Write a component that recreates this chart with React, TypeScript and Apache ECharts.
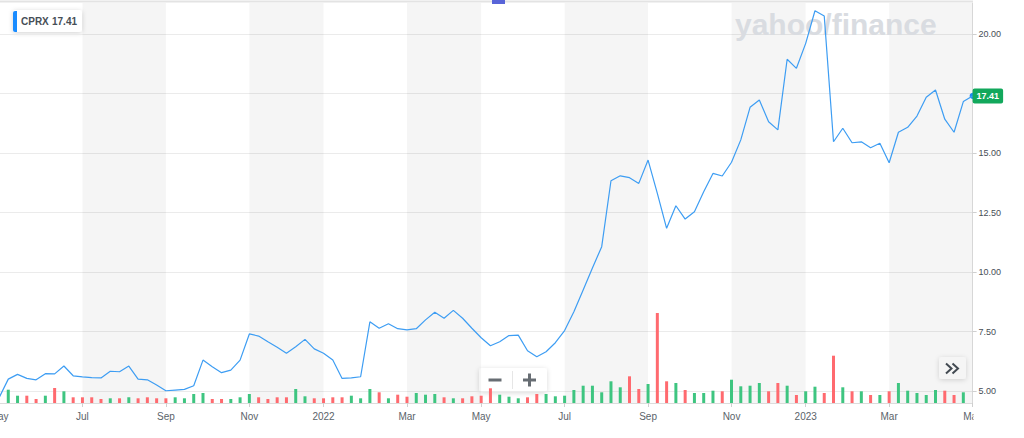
import React, { useEffect, useRef } from 'react';
import * as echarts from 'echarts';

const TICKER = 'CPRX';
const FIRST_WEEK = '2021-04-26'; // Monday of the first weekly point
const MONTH_NAMES = ['Jan', 'Feb', 'Mar', 'Apr', 'May', 'Jun', 'Jul', 'Aug', 'Sep', 'Oct', 'Nov', 'Dec'];
const PRICE_TICKS = [2.5, 5, 7.5, 10, 12.5, 15, 17.5, 20, 22.5];
const PRICE_LABELS_SHOWN = [5, 7.5, 10, 12.5, 15, 20];

// weekly closing price (USD)
const closes = [
  4.71, 5.5, 5.7, 5.53, 5.47, 5.73, 5.72, 6.05, 5.64, 5.59,
  5.56, 5.55, 5.83, 5.81, 6.05, 5.5, 5.47, 5.25, 5.01, 5.04,
  5.07, 5.22, 6.3, 6.02, 5.77, 5.88, 6.3, 7.4, 7.31, 7.07,
  6.84, 6.59, 6.86, 7.17, 6.77, 6.59, 6.3, 5.53, 5.55, 5.6,
  7.91, 7.64, 7.83, 7.62, 7.57, 7.62, 7.99, 8.31, 8.06, 8.39,
  8.06, 7.64, 7.24, 6.9, 7.07, 7.33, 7.35, 6.69, 6.44, 6.65,
  7.03, 7.54, 8.33, 9.25, 10.17, 11.07, 13.84, 14.05, 13.97, 13.73,
  14.71, 13.31, 11.84, 12.79, 12.23, 12.54, 13.38, 14.15, 14.04, 14.62,
  15.56, 16.93, 17.24, 16.32, 15.98, 18.95, 18.57, 19.62, 20.99, 20.77,
  15.48, 16.05, 15.44, 15.48, 15.23, 15.42, 14.6, 15.88, 16.09, 16.56,
  17.35, 17.66, 16.43, 15.88, 17.17, 17.41,
];

// weekly volume (millions of shares)
const volumes = [
  null,
  13.3, 7.3, 7.3, 4, 7.3, 15, 11.7, 5.7, 5.7, 5.7,
  4, 4.7, 4.7, 5.7, 4.7, 5.7, 4.7, 4.7, 5.7, 4.7,
  9, 10, 4, 4, 4, 5.7, 9, 5.7, 4, 5.7,
  5.7, 14, 6.7, 4.7, 4.7, 5.7, 5.7,
  7.3, 4.7, 14, 10.7, 4.7, 8.3, 6.3, 10, 8.3, 9,
  5.7, 4.7, 4.7, 6.7, 7.3, 14.7, 8.3, 6.3, 4.7, 5.7,
  9, 9, 6.7, 7.3, 13, 17.3, 17.3, 10.7, 21.7, 15.7,
  26.7, 14, 19, 90,
  21.7, 20, 13, 10, 10, 12.3, 11.7, 23.3, 16.7, 17.3,
  20, 11.7, 20, 17.3, 8, 11.7, 16.3, 10, 47.3, 15.7,
  11.7, 11.7, 8, 8, 11.7, 20, 12.3, 10, 8, 13,
  12.3, 8, 10.7,
  null,
];

const FONT = 'Liberation Sans, Arial, Helvetica, sans-serif';
const UP = '#3ec580';
const DOWN = '#ff6a6f';
const LINE = '#3d9df3';

function buildWeeks(start: string, n: number): string[] {
  const out: string[] = [];
  const t0 = Date.parse(start + 'T00:00:00Z');
  for (let i = 0; i < n; i++) {
    out.push(new Date(t0 + i * 7 * 86400000).toISOString().slice(0, 10));
  }
  return out;
}

// month (0-11) whose 1st falls in this week, for odd calendar months (Jan, Mar, ...), else -1
function labelMonth(week: string): number {
  const t0 = Date.parse(week + 'T00:00:00Z');
  for (let d = 0; d < 7; d++) {
    const day = new Date(t0 + d * 86400000);
    if (day.getUTCDate() === 1 && day.getUTCMonth() % 2 === 0) return day.getUTCMonth();
  }
  return -1;
}

export default function App() {
  const ref = useRef<HTMLDivElement>(null);
  useEffect(() => {
    if (!ref.current) return;
    const chart = echarts.init(ref.current, undefined, { renderer: 'svg' });
    const weeks = buildWeeks(FIRST_WEEK, closes.length);
    const last = closes[closes.length - 1];

    const labelIdx = weeks.map((w, i) => (labelMonth(w) >= 0 ? i : -1)).filter((i) => i >= 0);
    const bands: number[][] = [];
    labelIdx.forEach((idx, k) => {
      const m = labelMonth(weeks[idx]);
      if ((m === 2 || m === 6 || m === 10) && k + 1 < labelIdx.length) {
        bands.push([idx, labelIdx[k + 1]]);
      }
    });

    const volData = volumes.map((v, i) => ({
      value: v,
      itemStyle: { color: i > 0 && closes[i] < closes[i - 1] ? DOWN : UP },
    }));

    const showTick = (index: number, value: string) => labelMonth(value) >= 0;
    const fmt = (value: string) => {
      const m = labelMonth(value);
      if (m < 0) return '';
      if (m === 0) {
        const t0 = Date.parse(value + 'T00:00:00Z');
        return String(new Date(t0 + 6 * 86400000).getUTCFullYear());
      }
      return MONTH_NAMES[m];
    };

    const option: any = {
      animation: false,
      grid: [
        { left: -1, right: 51.4, top: -25.15, height: 475.6, outerBoundsMode: 'none', containLabel: false },
        { left: -1, right: 51.4, top: 3, height: 400, outerBoundsMode: 'none', containLabel: false },
      ],
      xAxis: [
        { type: 'category', gridIndex: 0, data: weeks, boundaryGap: false, show: false },
        {
          type: 'category', gridIndex: 1, data: weeks, boundaryGap: false,
          axisLine: { lineStyle: { color: '#dcdcdc' } },
          axisTick: { interval: showTick, length: 4, lineStyle: { color: '#cfcfcf' } },
          axisLabel: { interval: showTick, formatter: fmt, fontSize: 10, color: '#5b636a', margin: 8, fontFamily: FONT },
          splitLine: { show: false },
        },
      ],
      yAxis: [
        {
          type: 'value', gridIndex: 0, position: 'right', min: PRICE_TICKS[0], max: PRICE_TICKS[PRICE_TICKS.length - 1], interval: 2.5,
          axisLine: { show: false },
          axisTick: { show: true, length: 4, lineStyle: { color: '#cfcfcf' } },
          axisLabel: {
            formatter: (v: number) => (PRICE_LABELS_SHOWN.indexOf(v) >= 0 ? v.toFixed(2) : ''),
            fontSize: 9, color: '#464e56', margin: 6, fontFamily: FONT,
          },
          splitLine: { lineStyle: { color: '#ebebeb' } },
        },
        {
          type: 'value', gridIndex: 1, position: 'right', min: 0, max: 400,
          axisLine: { show: true, lineStyle: { color: '#dcdcdc' } },
          axisTick: { show: false }, axisLabel: { show: false }, splitLine: { show: false },
        },
      ],
      series: [
        {
          type: 'custom', name: 'bands', xAxisIndex: 1, yAxisIndex: 1, z: 1, silent: true,
          data: bands,
          renderItem: (params: any, api: any) => {
            const x0 = api.coord([api.value(0), 0])[0];
            const x1 = api.coord([api.value(1), 0])[0];
            const cs = params.coordSys;
            return { type: 'rect', shape: { x: x0, y: cs.y, width: x1 - x0, height: cs.height }, style: { fill: 'rgba(0,0,0,0.04)' } };
          },
        },
        {
          type: 'bar', name: 'Volume', xAxisIndex: 1, yAxisIndex: 1, barWidth: 3, z: 2,
          data: volData,
        },
        {
          type: 'line', name: TICKER, xAxisIndex: 0, yAxisIndex: 0, z: 5,
          data: closes, symbol: 'none', showSymbol: false,
          lineStyle: { color: LINE, width: 1.2 },
          markPoint: {
            silent: true,
            data: [{ coord: [weeks.length - 1, last], symbol: 'circle', symbolSize: 6, itemStyle: { color: '#1f8cf0' }, label: { show: false } }],
          },
          endLabel: {
            show: true, formatter: () => last.toFixed(2), backgroundColor: '#12a85c', color: '#fff',
            fontSize: 9, fontWeight: 'bold', padding: [3, 4, 3, 4], borderRadius: 2, distance: 0, fontFamily: FONT,
          },
        },
      ],
      graphic: [
        { type: 'line', z: 3, shape: { x1: 0, y1: 1.5, x2: 973, y2: 1.5 }, style: { stroke: '#e3e3e3', lineWidth: 2 } },
        { type: 'rect', z: 20, shape: { x: 492, y: 0, width: 13, height: 4 }, style: { fill: '#5864d8' } },
        {
          type: 'text', z: 3, x: 735, y: 24,
          style: { text: 'yahoo/finance', fontSize: 30, fontWeight: 'bold', fontFamily: FONT, fill: '#d9dce1', verticalAlign: 'middle' },
        },
        {
          type: 'group', x: 13, y: 10, z: 20,
          children: [
            { type: 'rect', shape: { x: 0, y: 0, width: 69, height: 22, r: 3 }, style: { fill: '#fff', shadowBlur: 5, shadowColor: 'rgba(0,0,0,0.18)', shadowOffsetY: 1 } },
            { type: 'rect', shape: { x: 0, y: 1, width: 4, height: 21, r: [2, 0, 0, 2] }, style: { fill: '#1a8cff' } },
            { type: 'text', x: 8, y: 11, style: { text: TICKER, fontSize: 10, fontWeight: 600, fontFamily: FONT, fill: '#464e56', verticalAlign: 'middle' } },
            { type: 'text', x: 39, y: 11, style: { text: last.toFixed(2), fontSize: 10, fontWeight: 600, fontFamily: FONT, fill: '#464e56', verticalAlign: 'middle' } },
          ],
        },
        {
          type: 'group', x: 0, y: 0, z: 20,
          children: [
            { type: 'rect', shape: { x: 479, y: 368, width: 68, height: 24, r: 3 }, style: { fill: '#fff', shadowBlur: 5, shadowColor: 'rgba(0,0,0,0.15)', shadowOffsetY: 1 } },
            { type: 'line', shape: { x1: 512.5, y1: 371, x2: 512.5, y2: 389 }, style: { stroke: '#e6e6e6', lineWidth: 1 } },
            { type: 'rect', shape: { x: 488.5, y: 378.5, width: 13, height: 3 }, style: { fill: '#676d73' } },
            { type: 'rect', shape: { x: 523, y: 378.5, width: 13, height: 3 }, style: { fill: '#676d73' } },
            { type: 'rect', shape: { x: 528, y: 373.5, width: 3, height: 13 }, style: { fill: '#676d73' } },
          ],
        },
        {
          type: 'group', x: 0, y: 0, z: 20,
          children: [
            { type: 'rect', shape: { x: 939, y: 357, width: 27, height: 22, r: 3 }, style: { fill: '#fff', shadowBlur: 5, shadowColor: 'rgba(0,0,0,0.15)', shadowOffsetY: 1 } },
            { type: 'polyline', shape: { points: [[946, 363.5], [951.5, 368.5], [946, 373.5]] }, style: { stroke: '#464e56', lineWidth: 2, fill: null } },
            { type: 'polyline', shape: { points: [[952.5, 363.5], [958, 368.5], [952.5, 373.5]] }, style: { stroke: '#464e56', lineWidth: 2, fill: null } },
          ],
        },
        { type: 'rect', z: 30, shape: { x: 973.5, y: 406, width: 51, height: 24 }, style: { fill: '#fff' } },
      ],
    };
    chart.setOption(option);
    return () => chart.dispose();
  }, []);
  return <div ref={ref} style={{ position: 'absolute', left: 0, top: 0, width: 1024, height: 438 }} />;
}
